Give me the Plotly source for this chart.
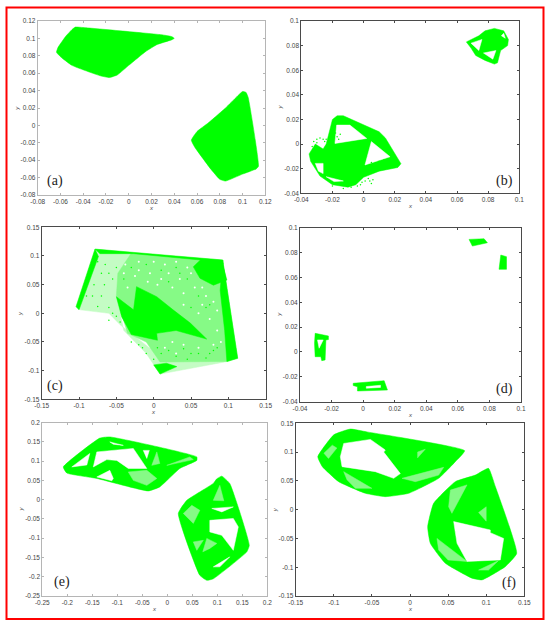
import plotly.graph_objects as go

GREEN = "#00ff00"
PALE = "#86fa86"
PALER = "#c4fcc4"
DARK = "#4a4a4a"
LIGHT = "#b5b5b5"

TICKS_A = ["-0.08", "-0.06", "-0.04", "-0.02", "0", "0.02", "0.04", "0.06", "0.08", "0.1", "0.12"]
TICKS_B = ["-0.04", "-0.02", "0", "0.02", "0.04", "0.06", "0.08", "0.1"]
TICKS_C = ["-0.15", "-0.1", "-0.05", "0", "0.05", "0.1", "0.15"]
TICKS_E = ["-0.25", "-0.2", "-0.15", "-0.1", "-0.05", "0", "0.05", "0.1", "0.15", "0.2"]

# (a) two solid blobs
A_UPPER = [(-0.047, 0.113), (-0.04, 0.1125), (0.03, 0.104), (0.038, 0.102), (0.04, 0.1), (0.037, 0.098),
           (0.025, 0.093), (0.015, 0.085), (0.0, 0.069), (-0.01, 0.058), (-0.017, 0.055), (-0.025, 0.057),
           (-0.05, 0.069), (-0.06, 0.079), (-0.0635, 0.084), (-0.062, 0.09), (-0.055, 0.103), (-0.05, 0.11)]
A_LOWER = [(0.1, 0.039), (0.103, 0.038), (0.105, 0.032), (0.114, -0.047), (0.112, -0.05), (0.1, -0.056),
           (0.085, -0.064), (0.08, -0.062), (0.072, -0.05), (0.058, -0.025), (0.055, -0.017), (0.06, -0.007),
           (0.07, 0.003), (0.085, 0.02), (0.095, 0.033)]

# (b)
B_SMALL = [(0.066, 0.083), (0.074, 0.088), (0.078, 0.092), (0.084, 0.094), (0.09, 0.092), (0.093, 0.085),
           (0.0925, 0.08), (0.088, 0.076), (0.086, 0.066), (0.084, 0.065), (0.078, 0.068), (0.072, 0.072),
           (0.069, 0.078)]
B_BIG = [(-0.02, 0.02), (-0.017, 0.023), (-0.013, 0.023), (0.01, 0.01), (0.014, 0.005), (0.024, -0.016),
         (0.022, -0.019), (0.01, -0.022), (0.0, -0.027), (-0.005, -0.033), (-0.01, -0.035), (-0.02, -0.033),
         (-0.028, -0.026), (-0.034, -0.014), (-0.035, -0.008), (-0.031, 0.0), (-0.026, -0.004), (-0.024, 0.0)]
B_HOLES = [
    [(0.069, 0.082), (0.076, 0.085), (0.074, 0.076)],
    [(0.077, 0.074), (0.085, 0.076), (0.083, 0.069)],
    [(0.09, 0.09), (0.091, 0.086), (0.0885, 0.088)],
    [(-0.0173, 0.0154), (-0.0088, 0.0154), (0.002, 0.0046), (-0.0184, 0.0005)],
    [(0.005, 0.002), (0.0148, -0.0076), (0.017, -0.0103), (0.0009, -0.017)],
    [(-0.024, -0.0265), (-0.013, -0.03), (-0.019, -0.0305)],
    [(-0.031, -0.0157), (-0.026, -0.0157), (-0.026, -0.024), (-0.029, -0.022)],
]
B_DOTS = [(-0.032, 0.002), (-0.03, 0.004), (-0.028, 0.005), (-0.026, 0.004), (-0.025, 0.002), (-0.03, 0.001),
          (-0.024, 0.004), (-0.023, 0.001), (-0.033, -0.002), (-0.02, -0.034), (-0.013, -0.036), (-0.008, -0.035),
          (-0.004, -0.034), (-0.002, -0.033), (0.001, -0.03), (0.004, -0.03), (0.006, -0.029), (0.005, -0.032),
          (-0.001, -0.031), (0.003, -0.028), (0.007, -0.018), (0.01, -0.014), (0.013, -0.013), (0.016, -0.012),
          (0.012, -0.016), (0.008, -0.016), (0.005, -0.015), (0.018, -0.014), (-0.018, 0.009), (-0.017, 0.006),
          (-0.019, 0.012), (-0.016, 0.004), (-0.015, 0.008)]

# (c) dense bands over a thin scatter
C_CLOUD_THIN = [(-0.0786, 0.112), (-0.03, 0.105), (-0.05, 0.03), (-0.04, -0.03), (-0.01, -0.07), (0.0085, -0.106),
                (0.099, -0.084), (0.05, -0.06), (-0.006, -0.06), (-0.045, -0.02), (-0.06, 0.0), (-0.098, 0.006),
                (-0.104, 0.0116)]
C_CLOUD = [(-0.03, 0.105), (0.0924, 0.093), (0.1125, -0.0785), (0.099, -0.084), (0.0085, -0.085), (-0.01, -0.05),
           (-0.035, -0.035), (-0.05, 0.03), (-0.048, 0.07)]
C_BANDS = [
    [(-0.0786, 0.112), (0.0924, 0.093), (0.093, 0.086), (0.0625, 0.093), (-0.027, 0.104), (-0.072, 0.104)],
    [(0.053, 0.081), (0.0625, 0.093), (0.091, 0.092), (0.098, 0.058), (0.08, 0.049), (0.062, 0.061)],
    [(0.0924, 0.093), (0.1125, -0.0785), (0.098, -0.084), (0.095, -0.03), (0.089, 0.04)],
    [(-0.023, 0.0465), (0.004, 0.029), (0.026, 0.006), (0.049, -0.017), (0.071, -0.045), (0.03, -0.03),
     (0.004, -0.035), (0.005, -0.047), (-0.03, -0.037), (-0.043, -0.006), (-0.05, 0.029), (-0.027, 0.006)],
    [(-0.0786, 0.112), (-0.104, 0.0116), (-0.1, 0.006), (-0.074, 0.099)],
    [(0.0085, -0.106), (0.031, -0.093), (0.017, -0.087), (0.0, -0.09)],
]
C_DOTS = [(-0.085, 0.07), (-0.08, 0.05), (-0.09, 0.03), (-0.07, 0.03), (-0.06, 0.01), (-0.075, 0.012), (-0.05, -0.005),
          (-0.06, -0.012), (-0.055, 0.0), (-0.045, -0.015), (-0.03, -0.05), (-0.02, -0.055), (-0.01, -0.07), (0.0, -0.08),
          (0.01, -0.07), (0.02, -0.065), (0.03, -0.075), (0.045, -0.08), (0.06, -0.07), (0.075, -0.07), (0.085, -0.06),
          (-0.03, 0.08), (-0.01, 0.085), (0.01, 0.075), (0.03, 0.08), (0.045, 0.06), (0.02, 0.055), (-0.04, 0.06),
          (0.06, 0.03), (0.075, 0.015), (0.05, 0.01), (-0.065, 0.085), (-0.05, 0.08), (-0.055, 0.06), (-0.07, 0.07),
          (-0.088, 0.055), (-0.082, 0.03), (-0.066, 0.05), (-0.06, 0.07), (-0.075, 0.09), (0.04, -0.062), (0.05, -0.07),
          (0.015, -0.09), (0.005, -0.06), (-0.015, -0.06), (0.07, -0.078), (0.08, -0.065), (0.035, 0.07), (0.07, 0.01)]
C_GAPS = [(-0.038, 0.085), (-0.02, 0.075), (-0.005, 0.07), (0.015, 0.085), (0.035, 0.06), (0.05, 0.07), (0.025, 0.045),
          (-0.035, 0.045), (0.04, 0.035), (0.055, 0.045), (0.07, 0.03), (0.08, 0.02), (0.06, 0.0), (0.075, -0.01),
          (0.085, -0.03), (0.04, 0.015), (0.025, -0.05), (0.04, -0.055), (0.06, -0.06), (0.08, -0.055), (0.03, -0.07),
          (0.015, -0.06), (-0.008, 0.055), (0.005, 0.05), (-0.025, 0.065), (0.065, 0.015), (0.085, 0.005), (0.09, -0.05),
          (-0.04, 0.07), (0.045, 0.08), (0.02, 0.07), (0.01, 0.06), (-0.02, 0.09), (0.0, 0.09), (0.03, 0.09), (0.065, 0.045)]

# (d) four small clusters
D_CLUSTERS = [
    [(0.0671, 0.0906), (0.0766, 0.0911), (0.0787, 0.0879), (0.0692, 0.0852)],
    [(0.0872, 0.078), (0.0908, 0.0767), (0.0908, 0.0665), (0.0861, 0.0665)],
    [(-0.0304, 0.015), (-0.022, 0.0129), (-0.022, 0.01), (-0.0236, 0.0097), (-0.0241, -0.0064), (-0.0262, -0.007),
     (-0.0268, -0.0038), (-0.0304, -0.0038), (-0.0308, 0.007)],
    [(-0.0063, -0.0252), (0.0133, -0.0231), (0.0154, -0.0306), (-0.0036, -0.0314), (-0.0036, -0.0279), (-0.0063, -0.027)],
]
D_HOLES = [
    [(-0.0289, 0.0097), (-0.0253, 0.0097), (-0.0279, 0.003)],
    [(0.002, -0.0278), (0.011, -0.0268), (0.011, -0.0285), (0.002, -0.0292)],
]

# (e)
E_UPPER = [(-0.208, 0.085), (-0.135, 0.16), (-0.115, 0.163), (0.059, 0.111), (0.059, 0.102), (0.025, 0.081),
           (-0.015, 0.033), (-0.038, 0.0225), (-0.141, 0.055), (-0.201, 0.069)]
E_LOWER = [(0.109, 0.061), (0.125, 0.0416), (0.164, -0.119), (0.159, -0.136), (0.092, -0.206), (0.079, -0.21),
           (0.065, -0.197), (0.022, -0.036), (0.039, -0.002), (0.092, 0.042), (0.099, 0.054)]
E_HOLES = [
    [(-0.191, 0.085), (-0.155, 0.12), (-0.161, 0.09)],
    [(-0.141, 0.124), (-0.068, 0.133), (-0.041, 0.081), (-0.078, 0.081), (-0.101, 0.102), (-0.121, 0.104), (-0.148, 0.085)],
    [(-0.141, 0.059), (-0.115, 0.076), (-0.108, 0.055), (-0.111, 0.049)],
    [(-0.115, 0.15), (-0.088, 0.141), (-0.108, 0.144)],
    [(-0.048, 0.128), (-0.036, 0.128), (-0.041, 0.107)],
    [(0.085, -0.054), (0.132, -0.049), (0.142, -0.071), (0.132, -0.132), (0.109, -0.093), (0.085, -0.084)],
    [(0.092, -0.175), (0.125, -0.149), (0.105, -0.175)],
    [(0.089, -0.023), (0.132, -0.019), (0.109, -0.032)],
]
E_PALE = [
    [(-0.078, 0.072), (-0.041, 0.076), (-0.021, 0.055), (-0.041, 0.037), (-0.068, 0.05)],
    [(-0.031, 0.089), (-0.021, 0.124), (-0.015, 0.094)],
    [(-0.001, 0.089), (0.045, 0.111), (0.052, 0.104), (0.012, 0.094)],
    [(0.092, -0.002), (0.105, 0.037), (0.113, -0.003)],
    [(0.032, -0.036), (0.049, -0.015), (0.065, -0.028), (0.052, -0.062)],
    [(0.052, -0.11), (0.072, -0.106), (0.059, -0.132)],
    [(0.079, -0.101), (0.099, -0.114), (0.085, -0.127), (0.071, -0.136)],
]

# (f)
F_UPPER = [(-0.121, 0.092), (-0.1, 0.13), (-0.0783, 0.14), (-0.0564, 0.135), (0.0717, 0.1025), (0.0595, 0.0834),
           (0.0376, 0.0544), (-0.0017, 0.0284), (-0.0324, 0.0226), (-0.0586, 0.0284), (-0.0936, 0.0486), (-0.115, 0.0747)]
F_LOWER = [(0.103, 0.0718), (0.112, 0.04), (0.14, -0.076), (0.125, -0.099), (0.0945, -0.122), (0.0813, -0.119),
           (0.0463, -0.093), (0.0267, -0.0585), (0.0232, -0.0295), (0.031, 0.011), (0.0595, 0.0486), (0.0857, 0.06)]
F_HOLES = [
    [(-0.087, 0.115), (-0.052, 0.122), (-0.0324, 0.1036), (-0.0345, 0.1), (-0.0127, 0.0626), (-0.0214, 0.0544),
     (-0.0455, 0.066), (-0.0892, 0.0747), (-0.0914, 0.092)],
    [(0.0573, -0.0208), (0.1054, -0.0353), (0.1054, -0.04), (0.1229, -0.05), (0.1185, -0.0873), (0.0748, -0.09), (0.0617, -0.0585)],
]
F_PALE = [
    [(-0.087, 0.066), (-0.05, 0.037), (-0.0717, 0.037), (-0.0827, 0.052)],
    [(-0.0105, 0.0544), (0.0442, 0.0735), (0.0376, 0.06), (0.007, 0.0486)],
    [(-0.113, 0.098), (-0.102, 0.112), (-0.096, 0.107), (-0.107, 0.089)],
    [(0.0354, -0.05), (0.0748, -0.09), (0.05, -0.0875), (0.0376, -0.07)],
    [(0.053, 0.034), (0.0748, 0.043), (0.055, -0.0064), (0.0507, 0.005)],
    [(0.09, -0.105), (0.116, -0.0886), (0.103, -0.105)],
    [(0.01, 0.1), (0.02, 0.105), (0.01, 0.09)],
    [(0.09, -0.005), (0.1, 0.005), (0.1, -0.02)],
]

W, H = 550, 625
# pixel box of each panel: left, right, top, bottom
PANELS = [
    ("(a)", TICKS_A, (37.7, 265.3, 21, 195), LIGHT, (-0.08, 0.12), (-0.065, -0.064)),
    ("(b)", TICKS_B, (301.3, 519.3, 21, 193.3), DARK, (-0.04, 0.1), (0.0905, -0.03)),
    ("(c)", TICKS_C, (41.7, 265.7, 227.3, 399.3), DARK, (-0.15, 0.15), (-0.132, -0.126)),
    ("(d)", TICKS_B, (300, 521, 227.7, 401.7), DARK, (-0.04, 0.1), (0.0895, -0.03)),
    ("(e)", TICKS_E, (42.3, 267.3, 422.7, 595.7), LIGHT, (-0.25, 0.2), (-0.211, -0.215)),
    ("(f)", TICKS_C, (295.7, 524.3, 423.3, 596), DARK, (-0.15, 0.15), (0.13, -0.127)),
]

fig = go.Figure()


def add_poly(n, pts, color, spline=False):
    fig.add_trace(go.Scatter(
        x=[p[0] for p in pts] + [pts[0][0]],
        y=[p[1] for p in pts] + [pts[0][1]],
        xaxis=f"x{n}", yaxis=f"y{n}",
        mode="lines", fill="toself", fillcolor=color,
        line=dict(color=color, width=0.5, shape="spline" if spline else "linear", smoothing=0.4),
        hoverinfo="skip",
    ))


def add_dots(n, pts, color=GREEN, size=1.5):
    fig.add_trace(go.Scatter(
        x=[p[0] for p in pts], y=[p[1] for p in pts],
        xaxis=f"x{n}", yaxis=f"y{n}",
        mode="markers", marker=dict(color=color, size=size),
        hoverinfo="skip",
    ))


add_poly(1, A_UPPER, GREEN, True)
add_poly(1, A_LOWER, GREEN, True)

add_poly(2, B_SMALL, GREEN)
add_poly(2, B_BIG, GREEN)
for pts in B_HOLES:
    add_poly(2, pts, "white")
add_dots(2, B_DOTS)

add_poly(3, C_CLOUD_THIN, PALER)
add_poly(3, C_CLOUD, PALE)
for pts in C_BANDS:
    add_poly(3, pts, GREEN)
add_dots(3, C_DOTS)
add_dots(3, C_GAPS, "white", 2)

for pts in D_CLUSTERS:
    add_poly(4, pts, GREEN)
for pts in D_HOLES:
    add_poly(4, pts, "white")

add_poly(5, E_UPPER, GREEN, True)
add_poly(5, E_LOWER, GREEN, True)
for pts in E_HOLES:
    add_poly(5, pts, "white")
for pts in E_PALE:
    add_poly(5, pts, PALE)

add_poly(6, F_UPPER, GREEN, True)
add_poly(6, F_LOWER, GREEN, True)
for pts in F_HOLES:
    add_poly(6, pts, "white")
for pts in F_PALE:
    add_poly(6, pts, PALE)

layout = dict(
    width=W, height=H, showlegend=False,
    margin=dict(l=0, r=0, t=0, b=0, autoexpand=False),
    paper_bgcolor="white", plot_bgcolor="white",
    font=dict(family="Liberation Sans, Arial, sans-serif", size=7, color="#444"),
)
annotations = []
for i, (label, ticks, box, frame, rng, pos) in enumerate(PANELS, start=1):
    left, right, top, bottom = box
    vals = [float(t) for t in ticks]
    axis = dict(
        range=list(rng), tickvals=vals, ticktext=ticks,
        showgrid=False, zeroline=False, showline=True, mirror="ticks",
        linecolor=frame, linewidth=1, ticks="inside", ticklen=2, tickcolor=frame, tickwidth=1,
        tickfont=dict(size=6.5, color="#444"),
    )
    layout[f"xaxis{i}"] = dict(axis, domain=[left / W, right / W], anchor=f"y{i}")
    layout[f"yaxis{i}"] = dict(axis, domain=[1 - bottom / H, 1 - top / H], anchor=f"x{i}")
    annotations.append(dict(
        x=pos[0], y=pos[1], xref=f"x{i}", yref=f"y{i}", text=label, showarrow=False,
        font=dict(family="Liberation Serif, serif", size=14, color="#222"),
    ))
    annotations.append(dict(
        x=(left + right) / 2 / W, y=1 - (bottom + 13) / H, xref="paper", yref="paper", text="<i>x</i>",
        xanchor="center", yanchor="middle", showarrow=False, font=dict(size=6, color="#444"),
    ))
    annotations.append(dict(
        x=(left - 21) / W, y=1 - (top + bottom) / 2 / H, xref="paper", yref="paper", text="<i>y</i>",
        xanchor="center", yanchor="middle", showarrow=False, textangle=-90, font=dict(size=6, color="#444"),
    ))
layout["annotations"] = annotations
# red frame round the whole figure
layout["shapes"] = [dict(
    type="rect", xref="paper", yref="paper",
    x0=6.5 / W, x1=543.5 / W, y0=1 - 619 / H, y1=1 - 7.5 / H,
    line=dict(color="#ff0000", width=2),
)]
fig.update_layout(**layout)

fig.write_html("out.html", config=dict(displayModeBar=False), post_script="document.body.style.margin='0';")
